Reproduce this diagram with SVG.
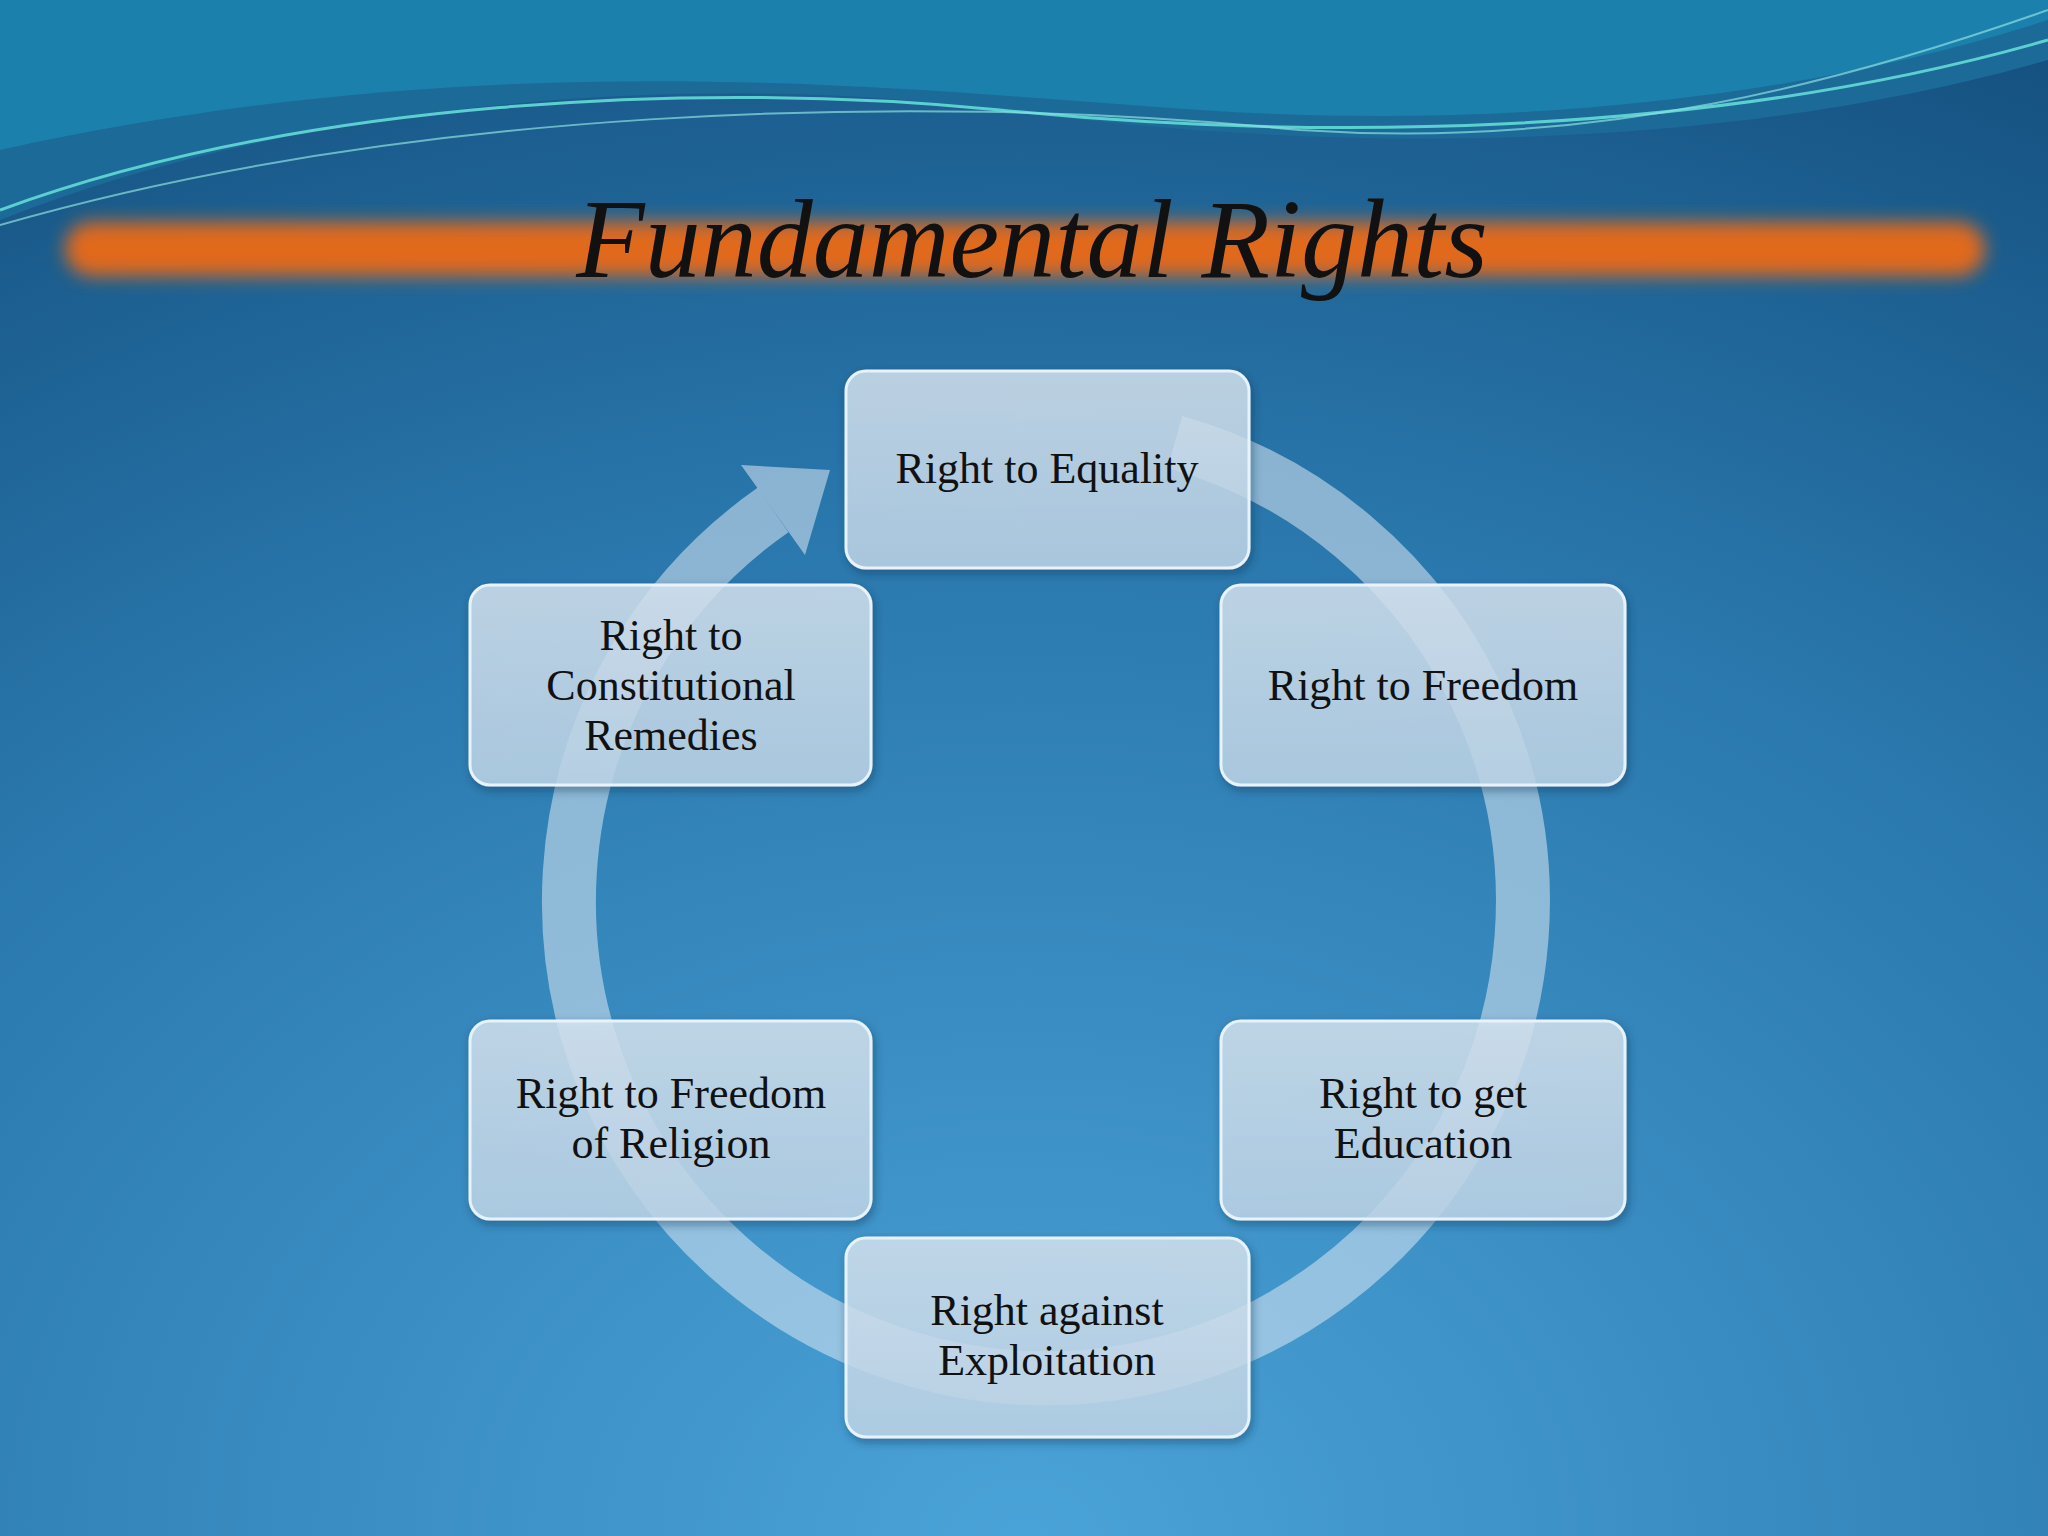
<svg xmlns="http://www.w3.org/2000/svg" width="2048" height="1536" viewBox="0 0 2048 1536">
<defs>
<radialGradient id="bg" cx="0.5" cy="1" r="1.1">
<stop offset="0" stop-color="#4aa3d8"/>
<stop offset="0.6" stop-color="#2a78ad"/>
<stop offset="1" stop-color="#14507f"/>
</radialGradient>
<linearGradient id="box" x1="0" y1="0" x2="0" y2="1">
<stop offset="0" stop-color="#dceaf5"/>
<stop offset="1" stop-color="#c4dbee"/>
</linearGradient>
<filter id="blur" x="-5%" y="-100%" width="110%" height="300%"><feGaussianBlur stdDeviation="9"/></filter>
<filter id="sh" x="-10%" y="-10%" width="130%" height="130%"><feDropShadow dx="2" dy="4" stdDeviation="4" flood-color="#0a3050" flood-opacity="0.5"/></filter>
<style>
.b{fill:url(#box);fill-opacity:0.78;stroke:#e8f2fa;stroke-width:3;filter:url(#sh)}
.t{font-family:"Liberation Serif","DejaVu Serif",serif;font-size:44px;fill:#111;text-anchor:middle}
</style>
</defs>
<rect width="2048" height="1536" fill="url(#bg)"/>
<path d="M0 0 H2048 V60 C1700 160 1300 150 1000 110 C700 70 300 100 0 220 Z" fill="#1c6a98"/>
<path d="M0 0 H2048 V20 C1800 100 1500 130 1200 110 C900 90 500 40 0 150 Z" fill="#1b86b0" opacity="0.8"/>
<path d="M0 210 C300 100 700 80 1000 110 C1300 140 1700 140 2048 40" fill="none" stroke="#5cd0d0" stroke-width="3"/>
<path d="M0 225 C400 110 900 90 1300 130 C1600 150 1850 80 2048 10" fill="none" stroke="#8ae0e0" stroke-width="2" opacity="0.7"/>
<rect x="65" y="222" width="1920" height="54" rx="27" fill="#e0691c" filter="url(#blur)"/>
<text x="1032" y="277" font-family="Liberation Serif,serif" font-style="italic" font-size="112" fill="#111" text-anchor="middle">Fundamental Rights</text>
<g id="connectors">
<path d="M1175 442 A477 477 0 1 1 773 510" fill="none" stroke="#dbe8f3" stroke-opacity="0.55" stroke-width="54"/>
<polygon points="830,470 805,555 741,465" fill="#dbe8f3" fill-opacity="0.55"/>
</g>
<g id="n1"><rect class="b" x="846" y="371" width="403" height="197" rx="20"/><text class="t" x="1047" y="483">Right to Equality</text></g>
<g id="n2"><rect class="b" x="1221" y="585" width="404" height="200" rx="20"/><text class="t" x="1423" y="700">Right to Freedom</text></g>
<g id="n3"><rect class="b" x="470" y="585" width="401" height="200" rx="20"/><text class="t" x="671" y="650">Right to</text><text class="t" x="671" y="700">Constitutional</text><text class="t" x="671" y="750">Remedies</text></g>
<g id="n4"><rect class="b" x="470" y="1021" width="401" height="198" rx="20"/><text class="t" x="671" y="1108">Right to Freedom</text><text class="t" x="671" y="1158">of Religion</text></g>
<g id="n5"><rect class="b" x="1221" y="1021" width="404" height="198" rx="20"/><text class="t" x="1423" y="1108">Right to get</text><text class="t" x="1423" y="1158">Education</text></g>
<g id="n6"><rect class="b" x="846" y="1238" width="403" height="199" rx="20"/><text class="t" x="1047" y="1325">Right against</text><text class="t" x="1047" y="1375">Exploitation</text></g>
</svg>
